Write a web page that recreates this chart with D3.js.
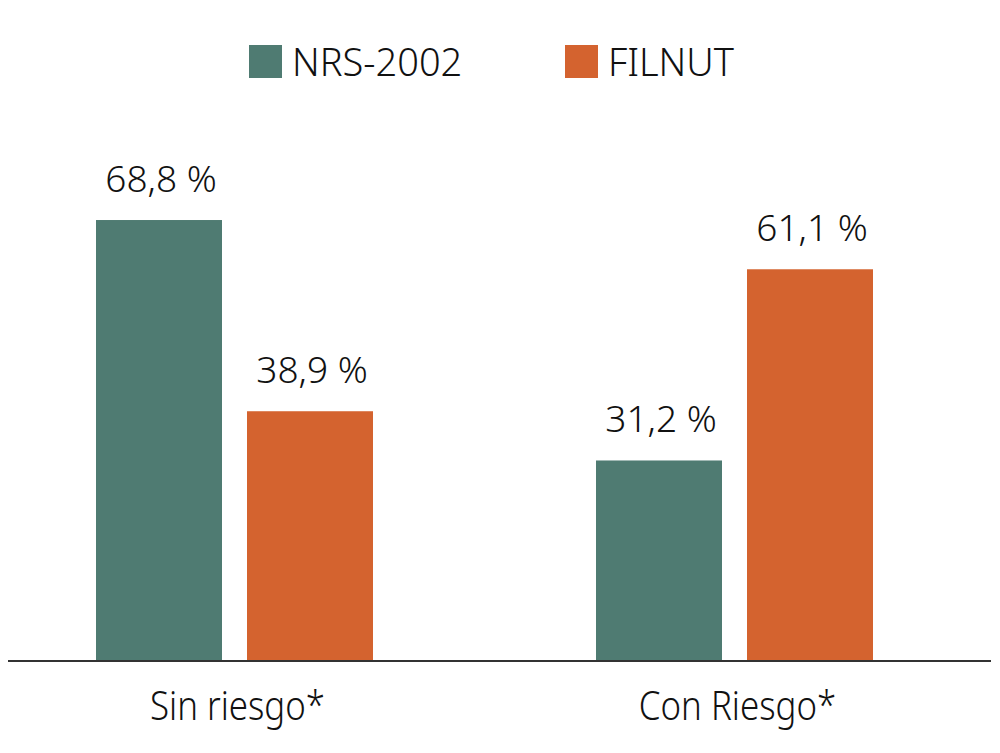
<!DOCTYPE html>
<html>
<head>
<meta charset="utf-8">
<script src="https://cdn.jsdelivr.net/npm/d3@7"></script>
<style>
  body { margin: 0; background: #fff; }
  text { font-family: "Noto Sans", sans-serif; font-weight: 300; fill: #111; }
</style>
</head>
<body>
<svg id="chart"></svg>
<script>
const categories = ["Sin riesgo*", "Con Riesgo*"];
const series = ["NRS-2002", "FILNUT"];
const nrsValues = [68.8, 31.2];
const filnutValues = [38.9, 61.1];
const valueLabels = [["68,8 %", "38,9 %"], ["31,2 %", "61,1 %"]];

const colours = {"NRS-2002": "#4f7b72", "FILNUT": "#d4632f"};

const width = 1000, height = 753;
const baseY = 660;

const svg = d3.select("#chart")
    .attr("width", width)
    .attr("height", height);

const x0 = d3.scaleBand()
    .domain(categories)
    .range([96, 873])
    .paddingInner(0.446)
    .paddingOuter(0);

const x1 = d3.scaleBand()
    .domain(series)
    .range([0, x0.bandwidth()])
    .paddingInner(0.1656)
    .paddingOuter(0);

const y = d3.scaleLinear()
    .domain([0, 100])
    .range([baseY, baseY - 639.5]);

const rows = categories.map((c, i) => ({
    category: c,
    values: [
        {key: "NRS-2002", value: nrsValues[i], label: valueLabels[i][0]},
        {key: "FILNUT", value: filnutValues[i], label: valueLabels[i][1]}
    ]
}));

const groups = svg.selectAll("g.group")
    .data(rows)
    .join("g")
    .attr("class", "group")
    .attr("transform", d => `translate(${x0(d.category)},0)`);

groups.selectAll("rect")
    .data(d => d.values)
    .join("rect")
    .attr("x", d => x1(d.key))
    .attr("y", d => y(d.value))
    .attr("width", x1.bandwidth())
    .attr("height", d => y(0) - y(d.value))
    .attr("fill", d => colours[d.key]);

groups.selectAll("text.val")
    .data(d => d.values)
    .join("text")
    .attr("class", "val")
    .attr("x", d => x1(d.key) + x1.bandwidth() / 2 + 2)
    .attr("y", d => y(d.value) - 28)
    .attr("text-anchor", "middle")
    .attr("font-size", 37)
    .text(d => d.label);

// baseline
svg.append("line")
    .attr("x1", 8).attr("x2", 991)
    .attr("y1", baseY + 1).attr("y2", baseY + 1)
    .attr("stroke", "#333")
    .attr("stroke-width", 2);

// category labels
svg.selectAll("text.cat")
    .data(categories)
    .join("text")
    .attr("class", "cat")
    .attr("transform", d => `translate(${x0(d) + x0.bandwidth() / 2 + 3},720) scale(0.85,1)`)
    .attr("text-anchor", "middle")
    .attr("font-size", 41)
    .text(d => d);

// legend
const legendX = [249, 565];
const legend = svg.selectAll("g.legend")
    .data(series)
    .join("g")
    .attr("class", "legend")
    .attr("transform", (d, i) => `translate(${legendX[i]},45)`);

legend.append("rect")
    .attr("width", 33)
    .attr("height", 33)
    .attr("fill", d => colours[d]);

legend.append("text")
    .attr("x", 43)
    .attr("y", 31)
    .attr("font-size", 38)
    .text(d => d);
</script>
</body>
</html>
